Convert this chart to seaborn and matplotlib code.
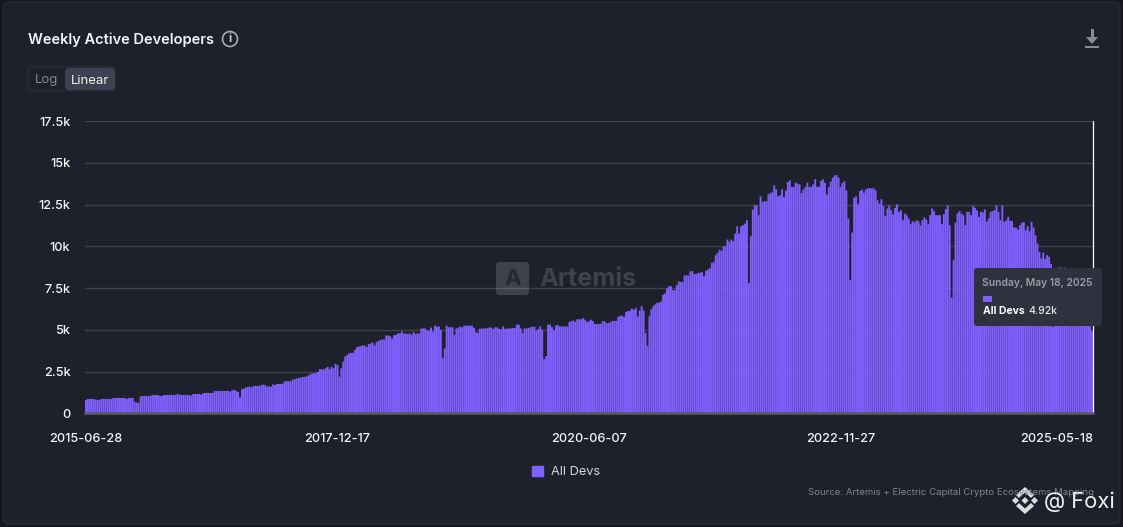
import matplotlib
matplotlib.use('Agg')
import matplotlib.pyplot as plt
from matplotlib.patches import FancyBboxPatch, Rectangle, Ellipse, Patch, Polygon
import seaborn as sns
import pandas as pd

# weekly values, ten per row
dev_counts = [
    800, 860, 860, 860, 860, 820, 800, 810, 860, 860,
    860, 860, 860, 860, 920, 920, 920, 920, 920, 920,
    920, 870, 920, 920, 920, 680, 660, 620, 1000, 1040,
    1040, 1040, 1040, 1040, 1090, 1100, 1100, 1090, 1040, 1040,
    1100, 1100, 1100, 1100, 1100, 1100, 1100, 1160, 1120, 1100,
    1100, 1100, 1100, 1090, 1060, 1160, 1160, 1160, 1160, 1120,
    1200, 1220, 1220, 1220, 1220, 1220, 1340, 1340, 1340, 1340,
    1340, 1340, 1340, 1340, 1300, 1380, 1400, 1350, 1280, 960,
    1440, 1480, 1540, 1580, 1600, 1560, 1640, 1640, 1640, 1660,
    1680, 1720, 1680, 1600, 1600, 1600, 1740, 1700, 1760, 1760,
    1760, 1780, 1920, 1920, 1920, 1920, 2020, 2040, 2080, 2120,
    2120, 2180, 2180, 2200, 2260, 2340, 2380, 2400, 2400, 2480,
    2640, 2640, 2620, 2700, 2780, 2640, 2780, 2700, 2960, 2900,
    2200, 2700, 3100, 3400, 3500, 3600, 3620, 3620, 3800, 3960,
    4000, 4020, 4060, 4060, 3960, 4140, 4180, 4240, 4060, 4250,
    4340, 4380, 4420, 4420, 4660, 4660, 4620, 4480, 4680, 4700,
    4780, 4780, 4900, 4780, 4780, 4740, 4780, 4700, 4860, 4760,
    4780, 4780, 5080, 5080, 5080, 4940, 4950, 5130, 4900, 5250,
    5180, 5200, 5000, 3320, 3880, 5250, 5150, 5150, 5150, 4700,
    5080, 5130, 5190, 5150, 5250, 5250, 5250, 5250, 5250, 5120,
    4850, 4820, 5060, 5080, 5080, 5080, 5100, 5150, 5120, 5040,
    5150, 5150, 5050, 5030, 5200, 5050, 5080, 5080, 5080, 5100,
    5100, 5310, 5310, 5080, 4820, 5080, 5080, 5110, 5150, 5180,
    5180, 4950, 5050, 5200, 5000, 3240, 3420, 5310, 5310, 5150,
    4960, 5250, 5280, 5200, 5200, 5200, 5200, 5200, 5470, 5520,
    5560, 5470, 5630, 5630, 5630, 5700, 5600, 5470, 5510, 5600,
    5520, 5350, 5350, 5350, 5350, 5510, 5510, 5400, 5400, 5460,
    5530, 5530, 5530, 5770, 5830, 5850, 5770, 6070, 6130, 6130,
    6270, 6200, 6310, 5800, 6150, 6410, 6150, 4820, 4020, 5810,
    6240, 6420, 6520, 6620, 6620, 6700, 7100, 7175, 7475, 7615,
    7615, 7375, 7375, 7670, 7890, 7870, 7870, 8250, 8250, 8250,
    8500, 8510, 8340, 8340, 8410, 8410, 8450, 8200, 8530, 8610,
    8690, 9010, 9050, 9470, 9600, 9800, 9720, 10000, 10000, 10400,
    10250, 10400, 10300, 10760, 11200, 10760, 11200, 11260, 11360, 11560,
    7800, 10600, 12200, 12450, 12450, 11860, 12990, 12660, 12700, 12700,
    13110, 13180, 13230, 13650, 13410, 13000, 13050, 13410, 12950, 13350,
    13850, 13950, 13550, 13550, 13810, 13750, 13700, 13190, 13400, 13550,
    13810, 13560, 13560, 13700, 14010, 13560, 13560, 13910, 14010, 13800,
    13110, 13550, 13870, 14110, 14250, 14250, 14110, 13550, 13790, 13890,
    13350, 11660, 7970, 10820, 12915, 12990, 12510, 13310, 13390, 13210,
    13400, 13470, 13470, 13470, 13470, 13350, 12755, 12550, 12815, 12400,
    11800, 12260, 12440, 12160, 11900, 12300, 12510, 12060, 12160, 11560,
    11960, 11860, 11660, 11320, 11500, 11440, 11560, 11500, 11260, 11560,
    11720, 11600, 11320, 11860, 12260, 12100, 11860, 11860, 11860, 11320,
    11920, 12220, 12440, 11260, 6920, 9170, 11420, 11960, 12100, 11960,
    11860, 11260, 12060, 12060, 11860, 12400, 12300, 12150, 11760, 12060,
    12020, 12200, 11460, 11660, 12060, 12100, 12160, 12450, 12060, 11560,
    12450, 11460, 11560, 11760, 11520, 11520, 11120, 11120, 11000, 11260,
    11400, 11460, 10960, 11200, 10900, 11460, 11120, 10660, 10170, 9670,
    9270, 9630, 9230, 9470, 9370, 8930, 5180, 8600, 8550, 8730,
    8730, 8650, 8730, 8450, 8200, 8000, 7700, 7400, 7100, 6800,
    6400, 6000, 5700, 5400, 5300, 5200, 4920,
]
y_ticks = [0, 2500, 5000, 7500, 10000, 12500, 15000, 17500]
y_labels = ['0', '2.5k', '5k', '7.5k', '10k', '12.5k', '15k', '17.5k']
tick_every = 129

BG = '#1e202b'
PURPLE = '#8060ff'
GRID = '#3f414b'
W, H = 1123, 527


def fx(x):
    return x / W


def fy(y):
    return 1 - y / H


sns.set_theme(style='dark')
plt.rcParams['font.family'] = ['Inter', 'DejaVu Sans']

weeks = pd.date_range('2015-06-28', periods=len(dev_counts), freq='7D').strftime('%Y-%m-%d')
data = pd.DataFrame({'week': weeks, 'devs': dev_counts})

fig = plt.figure(figsize=(W / 100, H / 100), dpi=100, facecolor='#16171e')


def add_box(x, y, w, h, radius, zorder=2, **kw):
    box = FancyBboxPatch((fx(x), fy(y + h)), w / W, h / H, boxstyle=f'round,pad=0,rounding_size={radius / W}',
                         transform=fig.transFigure, mutation_aspect=W / H, zorder=zorder, **kw)
    fig.add_artist(box)
    return box


def add_mark(patch):
    patch.set_transform(fig.transFigure)
    patch.set_zorder(2)
    fig.add_artist(patch)


def add_poly(points, color):
    add_mark(Polygon([(fx(x), fy(y)) for x, y in points], fc=color, ec='none'))


# card behind everything
add_box(3, 2, 1117, 522, 6, zorder=-1, fc=BG, ec='#2a2c36', lw=0.8)

ax = fig.add_axes([fx(85), fy(413.3), fx(1008), 292.3 / H])
ax.set_facecolor('none')
sns.barplot(data=data, x='week', y='devs', color=PURPLE, saturation=1, width=0.97, errorbar=None, linewidth=0, ax=ax)
# pixel snapping makes uneven black stripes on 2px bars
for bar in ax.patches:
    bar.set_snap(False)

ax.set_xlim(-0.5, len(dev_counts) - 0.5)
ax.set_ylim(0, 17500)
# last label ends flush with the plot edge
tick_pos = list(range(0, len(dev_counts), tick_every))
tick_pos[-1] = len(dev_counts) - 0.5
ax.set_xticks(tick_pos)
ax.set_xticklabels(weeks[::tick_every], color='#f6f6f8', fontsize=9.15, fontweight='medium')
ax.get_xticklabels()[-1].set_ha('right')
ax.set_yticks(y_ticks)
ax.set_yticklabels(y_labels, color='#f6f6f8', fontsize=9.15, fontweight='medium')
ax.set_xlabel('')
ax.set_ylabel('')
ax.tick_params(axis='both', length=0)
ax.tick_params(axis='x', pad=14.5)
ax.tick_params(axis='y', pad=10.5)
ax.grid(axis='y', color=GRID, lw=1)
ax.grid(axis='x', visible=False)
ax.set_axisbelow(True)
for side in ['top', 'left', 'right']:
    ax.spines[side].set_visible(False)
ax.spines['bottom'].set_color('#5a5b64')
ax.spines['bottom'].set_linewidth(1.8)

# hover line on the last week
ax.axvline(len(dev_counts) - 0.5, color='#ffffff', lw=0.9, clip_on=False)

# header
fig.text(fx(28), fy(40), 'Weekly Active Developers', color='#f4f5f7', fontsize=10.5, fontweight='semibold', va='center')
add_mark(Ellipse((fx(230), fy(39)), 15 / W, 15 / H, fc='none', ec='#a9aab0', lw=1.2))
fig.text(fx(230), fy(39.5), 'i', color='#c4c5ca', fontsize=8.5, fontweight='bold', ha='center', va='center')

add_box(28, 67, 87, 24, 4, fc='none', ec='#2d2f39', lw=0.8)
add_box(65, 68, 50, 22, 4, fc='#3f4150', ec='none')
fig.text(fx(46.5), fy(80.5), 'Log', color='#85868e', fontsize=9.5, ha='center', va='center')
fig.text(fx(90), fy(80.5), 'Linear', color='#f0f0f3', fontsize=9.5, ha='center', va='center')

# download icon
add_mark(Rectangle((fx(1090.5), fy(41)), 3 / W, 12 / H, fc='#8b8c93', ec='none'))
add_poly([(1086, 37), (1098, 37), (1092, 44)], '#8b8c93')
add_mark(Rectangle((fx(1085), fy(48)), 14 / W, 2 / H, fc='#8b8c93', ec='none'))

# Artemis watermark
add_box(496, 262, 33, 33, 3, fc='#c8c8d0', ec='none', alpha=0.2)
fig.text(fx(512.5), fy(279), 'A', color=BG, fontsize=16, fontweight='bold', ha='center', va='center', alpha=0.75)
fig.text(fx(539), fy(279), 'Artemis', color='#c8c8d0', fontsize=18.1, fontweight='bold', va='center', alpha=0.2)

# tooltip
add_box(974, 268, 128, 58, 3, fc='#2f313e', ec='none')
fig.text(fx(982), fy(282.5), 'Sunday, May 18, 2025', color='#9b9da6', fontsize=7.4, fontweight='semibold', va='center')
add_mark(Rectangle((fx(983), fy(301.5)), 9 / W, 6 / H, fc=PURPLE, ec='none'))
fig.text(fx(983), fy(310.5), 'All Devs', color='#ffffff', fontsize=7.5, fontweight='bold', va='center')
fig.text(fx(1028), fy(310.5), '4.92k', color='#e8e8ec', fontsize=7.5, fontweight='medium', va='center')

# legend and source
fig.legend(handles=[Patch(color=PURPLE, label='All Devs')], loc='center', bbox_to_anchor=(fx(566), fy(472)),
           frameon=False, labelcolor='#d5d6da', fontsize=9.2, handlelength=0.9, handleheight=0.9, handletextpad=0.6)
fig.text(fx(1094), fy(492.5), 'Source: Artemis + Electric Capital Crypto Ecosystems Mapping', color='#81838d',
         fontsize=6.9, ha='right', va='center')

# Foxi watermark: two chevrons and three small diamonds
LOGO = '#dcdcde'
add_poly([(1025, 487), (1034, 495), (1031, 498), (1025, 492.5), (1019, 498), (1016, 495)], LOGO)
add_poly([(1025, 514), (1034, 506), (1031, 503), (1025, 508.5), (1019, 503), (1016, 506)], LOGO)
for cx in [1015.5, 1025, 1034.5]:
    add_poly([(cx - 3.5, 500.5), (cx, 497), (cx + 3.5, 500.5), (cx, 504)], LOGO)
fig.text(fx(1044), fy(502), '@ Foxi', color='#f1f1f3', fontsize=15.8, va='center')

fig.savefig('out.png', dpi=100, facecolor=fig.get_facecolor())
